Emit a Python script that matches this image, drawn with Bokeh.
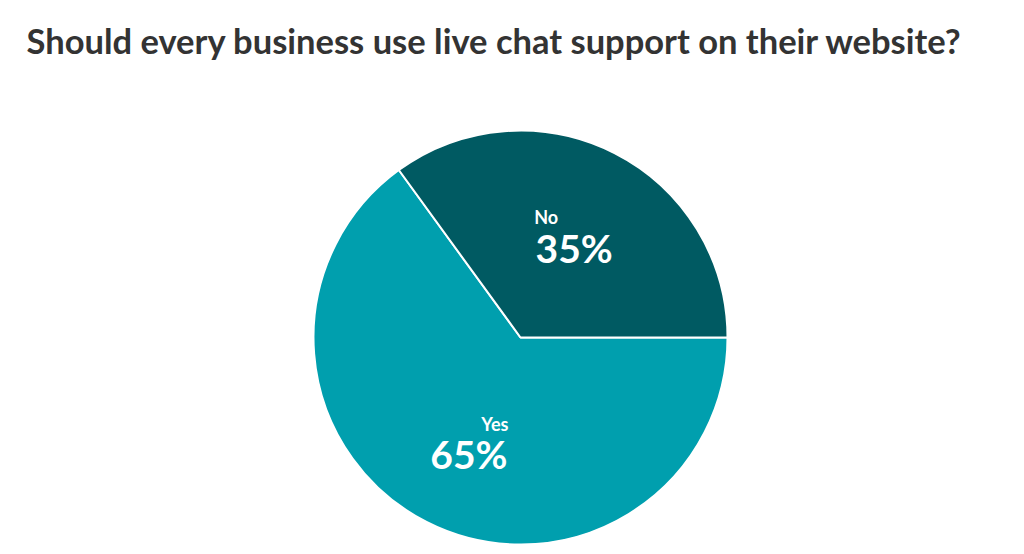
import math
from bokeh.plotting import figure
from bokeh.models import Range1d, Label
from bokeh.core.properties import value
from bokeh.embed import file_html
from bokeh.resources import INLINE

title_text = "Should every business use live chat support on their website?"
categories = ["Yes", "No"]
shares = [65, 35]
pct_labels = ["65%", "35%"]
colors = ["#009fae", "#005a62"]

W, H = 1008, 546
p = figure(width=W, height=H, output_backend="svg", toolbar_location=None,
           x_range=Range1d(0, W), y_range=Range1d(0, H),
           x_axis_type=None, y_axis_type=None, min_border=0)
p.outline_line_color = None
p.grid.visible = False
p.background_fill_color = "white"
p.border_fill_color = "white"

cx, cy, r = 520, H - 337, 207
FONT = "Lato"

# angles: "No" starts at 0 (east) going anticlockwise, "Yes" follows
total = sum(shares)
order = [1, 0]
start = 0.0
starts, ends = [0] * 2, [0] * 2
for i in order:
    a = shares[i] / total * 2 * math.pi
    starts[i] = start
    ends[i] = start + a
    start += a

p.wedge(x=[cx] * 2, y=[cy] * 2, radius=r, start_angle=starts, end_angle=ends,
        fill_color=colors, line_color="white", line_width=2)

f = 0.56
for i, cat in enumerate(categories):
    mid = (starts[i] + ends[i]) / 2
    ax = cx + f * r * math.cos(mid)
    ay = cy + f * r * math.sin(mid)
    sgn = 1 if math.cos(mid) >= 0 else -1
    p.text(x=[ax + 1], y=[ay - 13.5], text=[pct_labels[i]], text_align="center",
           text_baseline="alphabetic", text_color="white",
           text_font=value(FONT), text_font_size="39px", text_font_style="bold")
    p.text(x=[ax - 27 * sgn], y=[ay + 17], text=[cat], text_align="center",
           text_baseline="alphabetic", text_color="white",
           text_font=value(FONT), text_font_size="18px", text_font_style="bold")

p.add_layout(Label(x=26, y=H - 39.5, text=title_text, text_font=FONT,
                   text_font_size="34.5px", text_font_style="bold",
                   text_color="#333333", text_baseline="alphabetic"))

open("out.html", "w").write(file_html(p, INLINE))
